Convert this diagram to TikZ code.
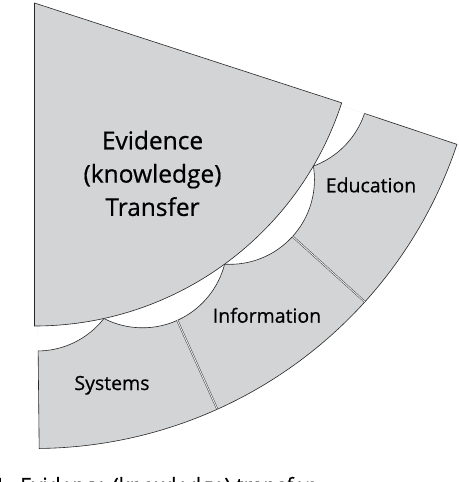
\documentclass[tikz,border=0pt]{standalone}
\usepackage{fontspec}
\setmainfont{Open Sans}[FakeBold=0.6]
\definecolor{sectorgray}{RGB}{211,212,214}
\tikzset{panel/.style={fill=sectorgray, draw=black!85, line width=0.6pt},
hole/.style={fill=white, draw=black!85, line width=0.6pt},
%two thin rules with a light gap between them
divider/.style={draw=black!80, line width=0.45pt, double=sectorgray!40, double distance=0.9pt},
label/.style={font=\fontsize{19.5}{23}\selectfont, inner sep=0pt}}

\begin{document}
\begin{tikzpicture}[x=1pt,y=1pt]

\useasboundingbox (-34.5,3) rectangle (423.5,-479);

\coordinate (0) at (0,0);

\coordinate (1) at (-89.4:348);
\coordinate (2) at (-89.4:445.5);
\coordinate (3) at (-18.5:348);
\coordinate (4) at (-18.5:445.5);

\coordinate (5) at (-65.77:348);
\coordinate (6) at (-65.77:445.5);
\coordinate (7) at (-42.13:348);
\coordinate (8) at (-42.13:445.5);

\coordinate (9) at (-90:323);

% outer band
\fill[sectorgray] (-89.4:323) -- (2) arc[start angle=-89.4, end angle=-18.5, radius=445.5]
    -- (-18.5:323) arc[start angle=-18.5, end angle=-89.4, radius=323] -- cycle;

\begin{scope}
\clip (-89.4:323) -- (-89.4:445.5) arc[start angle=-89.4, end angle=-18.5, radius=445.5]
    -- (-18.5:323) arc[start angle=-18.5, end angle=-89.4, radius=323] -- cycle;
\foreach \a in {-89.4,-65.77,-42.13,-18.5}
    \draw[hole] (\a:263.3) circle (84.7);
\end{scope}

\draw[black!85, line width=0.6pt] (1) -- (2) arc[start angle=-89.4, end angle=-18.5, radius=445.5] -- (3);

\draw[divider] (5) -- (6);
\draw[divider] (7) -- (8);

% inner sector
\draw[panel] (0) -- (9) arc[start angle=-90, end angle=-18, radius=323] -- cycle;

\node[font=\fontsize{24.5}{33.3}\selectfont, align=center, inner sep=0pt] (transfer) at (118,-170.4)
    {Evidence\\(knowledge)\\Transfer};
\node[label, anchor=base] (education) at (336.5,-189.3) {Education};
\node[label, anchor=base] (information) at (232.5,-319.7) {Information};
\node[label, anchor=base] (systems) at (77.5,-387) {Systems};

\node[font=\fontsize{21}{25}\selectfont, anchor=base west, inner sep=0pt] (caption) at (-14.5,-490)
    {\llap{\textbf{1}\hspace{16pt}}Evidence (knowledge) transfer};

\end{tikzpicture}
\end{document}
